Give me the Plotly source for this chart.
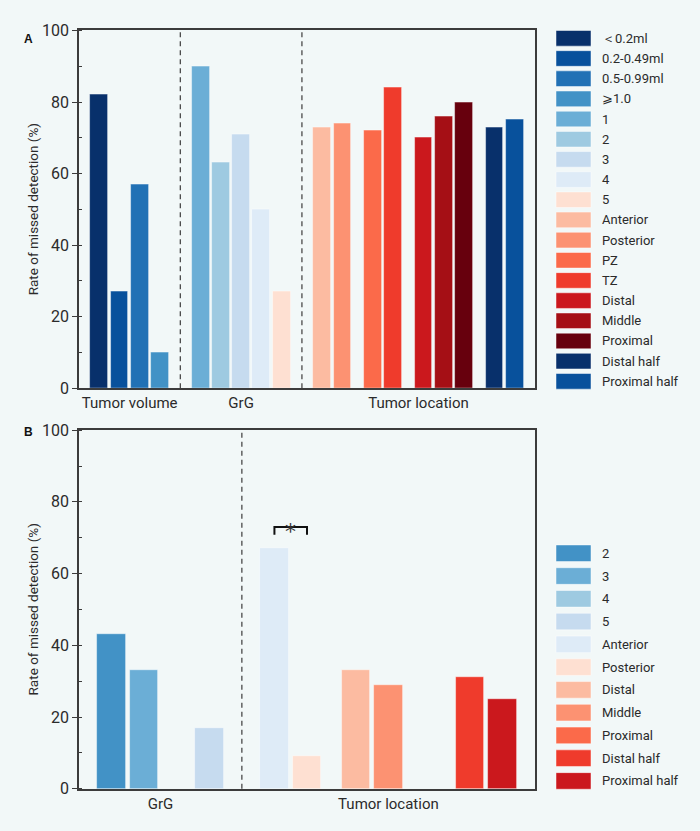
import plotly.graph_objects as go

# ---------------- Data ----------------
# Panel A
a_group_names = ["Tumor volume", "GrG", "Tumor location"]
a_subgroups = [[4], [5], [2, 2, 3, 2]]          # bars per sub-cluster inside each group
a_labels = ["\uff1c0.2ml", "0.2-0.49ml", "0.5-0.99ml", "\u2a7e1.0",
            "1", "2", "3", "4", "5",
            "Anterior", "Posterior", "PZ", "TZ", "Distal", "Middle", "Proximal",
            "Distal half", "Proximal half"]
a_values = [82, 27, 57, 10,
            90, 63, 71, 50, 27,
            73, 74, 72, 84, 70, 76, 80, 73, 75]
a_colors = ["#08306b", "#08519c", "#2171b5", "#4292c6",
            "#6baed6", "#9ecae1", "#c6dbef", "#deebf7", "#fee0d2",
            "#fcbba1", "#fc9272", "#fb6a4a", "#ef3b2c", "#cb181d", "#a50f15", "#67000d",
            "#08306b", "#08519c"]

# Panel B
b_group_names = ["GrG", "Tumor location"]
b_subgroups = [[4], [2, 3, 2]]
b_labels = ["2", "3", "4", "5",
            "Anterior", "Posterior", "Distal", "Middle", "Proximal",
            "Distal half", "Proximal half"]
b_values = [43, 33, 0, 17,
            67, 9, 33, 29, 0, 31, 25]
b_colors = ["#4292c6", "#6baed6", "#9ecae1", "#c6dbef",
            "#deebf7", "#fee0d2", "#fcbba1", "#fc9272", "#fb6a4a", "#ef3b2c", "#cb181d"]
b_sig_pair = ("Anterior", "Posterior")

y_ticks = [0, 20, 40, 60, 80, 100]
y_title = "Rate of missed detection (%)"

# ---------------- Layout helpers ----------------
BG = "#f2f8f8"
AX = "#3c3c3c"
TXT = "#2b2b2b"
FONT = "Roboto"
W, H = 700, 831


def positions(subgroups):
    """slot positions: 1 between bars, 1.5 between sub-clusters, 2 between groups."""
    pos, group_spans = [], []
    x = 0.0
    for g in subgroups:
        start = x
        for si, n in enumerate(g):
            if si > 0:
                x += 0.5
            for _ in range(n):
                pos.append(x)
                x += 1.0
        group_spans.append((start, x - 1.0))
        x += 1.0
    dividers = [(group_spans[i][1] + group_spans[i + 1][0]) / 2 for i in range(len(group_spans) - 1)]
    return pos, group_spans, dividers


a_pos, a_spans, a_div = positions(a_subgroups)
b_pos, b_spans, b_div = positions(b_subgroups)

fig = go.Figure()

fig.add_trace(go.Bar(x=a_pos, y=a_values, width=0.88, marker=dict(color=a_colors,
              line=dict(color="rgba(255,255,255,0.55)", width=0.8)),
              xaxis="x", yaxis="y", showlegend=False, hovertext=a_labels))
fig.add_trace(go.Bar(x=b_pos, y=b_values, width=0.88, marker=dict(color=b_colors,
              line=dict(color="rgba(255,255,255,0.55)", width=[0.8 if v > 0 else 0 for v in b_values])),
              xaxis="x2", yaxis="y2", showlegend=False, hovertext=b_labels))

px = lambda v: v / W
py = lambda v: 1 - v / H

a_dom_y = [py(388), py(22)]
b_dom_y = [py(798), py(431)]
dom_x = [px(79), px(535)]

yaxis_common = dict(range=[0, 100], tickvals=y_ticks, ticks="outside", ticklen=5, tickwidth=1.3,
                    tickcolor=AX, showline=True, linecolor=AX, linewidth=1.5, mirror=True,
                    showgrid=False, zeroline=False,
                    minor=dict(dtick=10, ticks="inside", ticklen=3, tickcolor=AX, tickwidth=1.3),
                    tickfont=dict(family=FONT, size=16, color=TXT))
xaxis_common = dict(showline=True, linecolor=AX, linewidth=1.5, mirror=True, showgrid=False,
                    zeroline=False, ticks="", tickfont=dict(family=FONT, size=15, color=TXT))

fig.update_layout(
    width=W, height=H, margin=dict(l=0, r=0, t=0, b=0),
    paper_bgcolor=BG, plot_bgcolor=BG, bargap=0,
    xaxis=dict(domain=dom_x, anchor="y", range=[-1, a_pos[-1] + 1],
               tickvals=[(s + e) / 2 for s, e in a_spans], ticktext=a_group_names, **xaxis_common),
    yaxis=dict(domain=a_dom_y, anchor="x", **yaxis_common),
    xaxis2=dict(domain=dom_x, anchor="y2", range=[-1, b_pos[-1] + 1],
                tickvals=[(s + e) / 2 for s, e in b_spans], ticktext=b_group_names, **xaxis_common),
    yaxis2=dict(domain=b_dom_y, anchor="x2", **yaxis_common),
)

shapes = []
for d in a_div:
    shapes.append(dict(type="line", xref="x", yref="y domain", x0=d, x1=d, y0=0, y1=1,
                       line=dict(color="#4a4a4a", width=1.3, dash="5px,4px")))
for d in b_div:
    shapes.append(dict(type="line", xref="x2", yref="y2 domain", x0=d, x1=d, y0=0, y1=1,
                       line=dict(color="#4a4a4a", width=1.3, dash="5px,4px")))

# significance bracket in panel B
i0, i1 = b_labels.index(b_sig_pair[0]), b_labels.index(b_sig_pair[1])
top = max(b_values[i0], b_values[i1]) + 6
shapes.append(dict(type="path", xref="x2", yref="y2",
                   path=f"M{b_pos[i0]},{top-2.2} L{b_pos[i0]},{top} L{b_pos[i1]},{top} L{b_pos[i1]},{top-2.2}",
                   line=dict(color="#111", width=2)))

annotations = [
    dict(text="*", x=(b_pos[i0] + b_pos[i1]) / 2, y=top, xref="x2", yref="y2",
         showarrow=False, yanchor="middle", yshift=-5, font=dict(family="DejaVu Sans", size=22, color="#333")),
    dict(text="<b>A</b>", x=px(21.5), y=py(22), xref="paper", yref="paper", showarrow=False,
         font=dict(family="Arial", size=12, color="#111")),
    dict(text="<b>B</b>", x=px(21.5), y=py(433), xref="paper", yref="paper", showarrow=False,
         font=dict(family="Arial", size=12, color="#111")),
]
for dom in (a_dom_y, b_dom_y):
    annotations.append(dict(text=y_title, x=px(33), y=(dom[0] + dom[1]) / 2, xref="paper", yref="paper",
                            textangle=-90, showarrow=False, xanchor="center", yanchor="middle",
                            font=dict(family=FONT, size=13.5, color=TXT)))


def add_legend(labels, colors, y_first, spacing, sw_h):
    for k, (lab, col) in enumerate(zip(labels, colors)):
        yc = y_first + k * spacing
        shapes.append(dict(type="rect", xref="paper", yref="paper",
                           x0=px(556), x1=px(591), y0=py(yc + sw_h / 2), y1=py(yc - sw_h / 2),
                           fillcolor=col, line=dict(color="rgba(255,255,255,0.6)", width=0.8)))
        annotations.append(dict(text=lab, x=px(600), y=py(yc), xref="paper", yref="paper",
                                xanchor="left", yanchor="middle", showarrow=False,
                                font=dict(family=FONT, size=13, color=TXT)))


add_legend(a_labels, a_colors, 30, 20.65, 16)
add_legend(b_labels, b_colors, 557, 23.3, 17)

fig.update_layout(shapes=shapes, annotations=annotations)
fig.write_html("out.html")
